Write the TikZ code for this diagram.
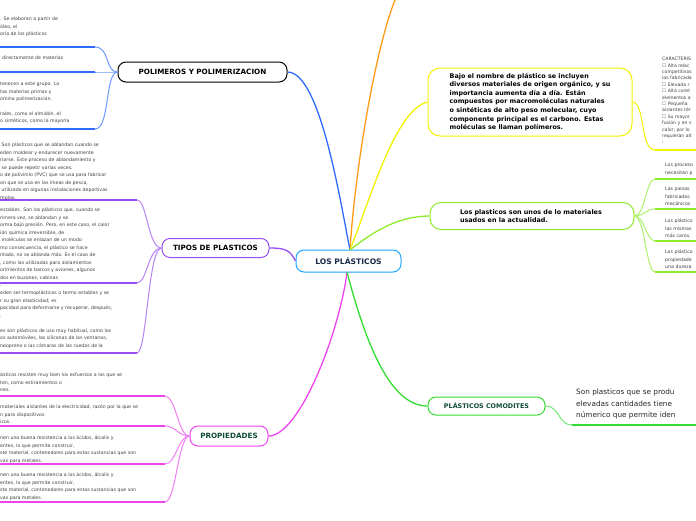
\documentclass[tikz,border=0pt]{standalone}
\usepackage{fontspec}
\setmainfont{DejaVu Sans}
\begin{document}
\begin{tikzpicture}[x=1pt,y=-1pt,
 box/.style={draw,rounded corners=8pt,line width=1pt,fill=white,font=\bfseries\fontsize{7.2}{9}\selectfont,inner sep=0pt},
 small/.style={anchor=north west,align=left,inner sep=0pt,font=\fontsize{4.7}{7.45}\selectfont,text=black!75},
 br/.style={line width=1pt},
 leaf/.style={line width=1.6pt}]
\useasboundingbox (0,0) rectangle (696,520);
\definecolor{cblue}{HTML}{2F6BFF}
\definecolor{cpurp}{HTML}{9A4DF0}
\definecolor{cmag}{HTML}{EE44EE}
\definecolor{cyel}{HTML}{F2F200}
\definecolor{clime}{HTML}{8CEB2A}
\definecolor{cgreen}{HTML}{33DD33}
\definecolor{corange}{HTML}{FF9A1A}
\definecolor{cnavy}{HTML}{1A2A4A}
\definecolor{cdgreen}{HTML}{0E4A3A}

% central
\node[box,draw=cblue!60!cyan,minimum width=105,minimum height=22,text=cnavy,font=\bfseries\fontsize{7.6}{9}\selectfont] (c) at (348.5,261) {LOS PLÁSTICOS};
\coordinate (ct) at (350,250);
\coordinate (cb) at (347,272);

% orange
\coordinate (or) at (395,0);
\draw[corange,line width=1.3pt] (ct) .. controls (355,170) and (375,50) .. (or);

% POLIMEROS
\node[box,draw=black,minimum width=169,minimum height=20] (pol) at (202.5,72) {POLIMEROS Y POLIMERIZACION};
\draw[cblue,line width=1.3pt] (pol.east) .. controls (320,72) and (340,200) .. (ct);
\coordinate (p1) at (95,47);
\coordinate (p2) at (95,72);
\coordinate (p3) at (95,129);
\foreach \p in {p1,p2,p3}{\draw[cblue!70,br] (pol.west) .. controls (105,72) and (110,0 |- \p) .. (\p);
  \draw[cblue,leaf] (\p) -- (0,0 |- \p);}
\node[small] (t1) at (0,17) {. Se elaboran a partir de\\óleo, el\\oría de los plásticos};
\node[small] (t2) at (2,56) {directamente de materias};
\node[small] (t3) at (0,82) {tenecen a este grupo. La\\tas materias primas y\\omina polimerización.\\[7.45pt]rales, como el almidón, el\\o sintéticos, como la mayoría};

% TIPOS
\node[box,draw=cpurp,minimum width=107,minimum height=19] (tip) at (215.5,248) {TIPOS DE PLASTICOS};
\draw[cpurp,line width=1.3pt] (tip.east) .. controls (285,248) and (290,250) .. (c.west);
\coordinate (q1) at (137,200);
\coordinate (q2) at (137,283);
\coordinate (q3) at (137,353);
\foreach \p in {q1,q2,q3}{\draw[cpurp!70,br] (tip.west) .. controls (148,248) and (147,0 |- \p) .. (\p);
  \draw[cpurp,leaf] (\p) -- (0,0 |- \p);}
\node[small] (t4) at (0,143) {\ Son plásticos que se ablandan cuando se\\eden moldear y endurecer nuevamente\\riarse. Este proceso de ablandamiento y\\\ se puede repetir varias veces.\\o de polivinilo (PVC) que se usa para fabricar\\on que se usa en las líneas de pesca,\\\ utilizado en algunas instalaciones deportivas\\mplos.};
\node[small] (t5) at (0,208) {estables. Son los plásticos que, cuando se\\rimera vez, se ablandan y se\\orma bajo presión. Pero, en este caso, el calor\\ión química irreversible, de\\\ moléculas se enlazan de un modo\\mo consecuencia, el plástico se hace\\ntado, no se ablanda más. Es el caso de\\, como las utilizadas para aislamientos\\orimientos de barcos y aviones, algunos\\dos en buzones, cabinas\\.};
\node[small] (t6) at (0,291) {eden ser termoplásticos o termo estables y se\\r su gran elasticidad; es\\pacidad para deformarse y recuperar, después,\\.\\[7.45pt]es son plásticos de uso muy habitual, como los\\os automóviles, las siliconas de las ventanas,\\neopreno o las cámaras de las ruedas de la};

% PROPIEDADES
\node[box,draw=cmag,minimum width=78,minimum height=20,text=cdgreen] (pro) at (229,436) {PROPIEDADES};
\draw[cmag,line width=1.3pt] (pro.east) .. controls (300,436) and (340,330) .. (cb);
\coordinate (r1) at (165,396);
\coordinate (r2) at (165,426);
\coordinate (r3) at (165,464);
\coordinate (r4) at (165,502);
\foreach \p in {r1,r2,r3,r4}{\draw[cmag!70,br] (pro.west) .. controls (178,436) and (176,0 |- \p) .. (\p);
  \draw[cmag,leaf] (\p) -- (0,0 |- \p);}
\node[small] (t7) at (0,373) {ásticos resisten muy bien los esfuerzos a los que se\\ten, como estiramientos o\\nes.};
\node[small] (t8) at (0,405) {materiales aislantes de la electricidad, razón por la que se\\n para dispositivos\\icos.};
\node[small] (t9) at (0,436) {nen una buena resistencia a los ácidos, álcalis y\\entes, lo que permite construir,\\ste material, contenedores para estas sustancias que son\\vas para metales.};
\node[small] (t10) at (0,473) {nen una buena resistencia a los ácidos, álcalis y\\entes, lo que permite construir,\\ste material, contenedores para estas sustancias que son\\vas para metales.};

% yellow
\node[box,draw=cyel,rounded corners=12pt,minimum width=204,minimum height=68,align=left,font=\bfseries\fontsize{6.4}{8.6}\selectfont] (yel) at (530,102) {Bajo el nombre de plástico se incluyen\\diversos materiales de origen orgánico, y su\\importancia aumenta día a día. Están\\compuestos por macromoléculas naturales\\o sintéticas de alto peso molecular, cuyo\\componente principal es el carbono. Estas\\moléculas se llaman polímeros.};
\draw[cyel,line width=1.3pt] (ct) .. controls (370,200) and (395,110) .. (yel.west);
\coordinate (y1) at (655,150);
\draw[cyel,br] (yel.east) .. controls (645,102) and (640,150) .. (y1);
\draw[cyel,leaf] (y1) -- (696,0 |- y1);
\node[small,font=\fontsize{4.6}{6.4}\selectfont] (t11) at (662,57) {CARACTERIS\\☐ Alta relac\\competitivos\\las fabricada\\☐ Elevada r\\☐ Alta coret\\elementos a\\☐ Pequeña\\aislantes tér\\☐ Su mayor\\fusión y en s\\calor; por lo\\requieran alt\\:};

% lime
\node[box,draw=clime,rounded corners=11pt,minimum width=204,minimum height=27,align=left,font=\bfseries\fontsize{6.4}{8.6}\selectfont] (lim) at (532,216) {Los plasticos son unos de lo materiales\\usados en la actualidad.\hspace*{56pt}};
\draw[clime,line width=1.3pt] (ct) .. controls (375,230) and (400,216) .. (lim.west);
\coordinate (g1) at (655,179);
\coordinate (g2) at (655,209);
\coordinate (g3) at (655,241);
\coordinate (g4) at (655,272);
\foreach \p in {g1,g2,g3,g4}{\draw[clime!70,br] (lim.east) .. controls (645,216) and (646,0 |- \p) .. (\p);
  \draw[clime,leaf] (\p) -- (696,0 |- \p);}
\node[small] (t12) at (665,163) {Los proceso\\necesitan p};
\node[small] (t13) at (665,187) {Las piezas\\fabricadas\\mecánicos};
\node[small] (t14) at (665,219) {Los plástico\\las mismas\\más caros.};
\node[small] (t15) at (665,250) {Los plástico\\propiedade\\una dureza};

% comodites
\node[box,draw=cgreen,minimum width=117,minimum height=18,text=cdgreen,font=\bfseries\fontsize{6.4}{8}\selectfont] (com) at (486.5,406) {PLÁSTICOS COMODITES};
\draw[cgreen,line width=1.3pt] (cb) .. controls (370,360) and (395,406) .. (com.west);
\coordinate (k1) at (572,425);
\draw[cgreen!70,br] (com.east) .. controls (560,406) and (558,425) .. (k1);
\draw[cgreen,leaf] (k1) -- (696,0 |- k1);
\node[small,font=\fontsize{7.3}{11.5}\selectfont,text=black!85] (t16) at (576,389) {Son plasticos que se produ\\elevadas cantidades tiene\\númerico que permite iden};
\end{tikzpicture}
\end{document}
